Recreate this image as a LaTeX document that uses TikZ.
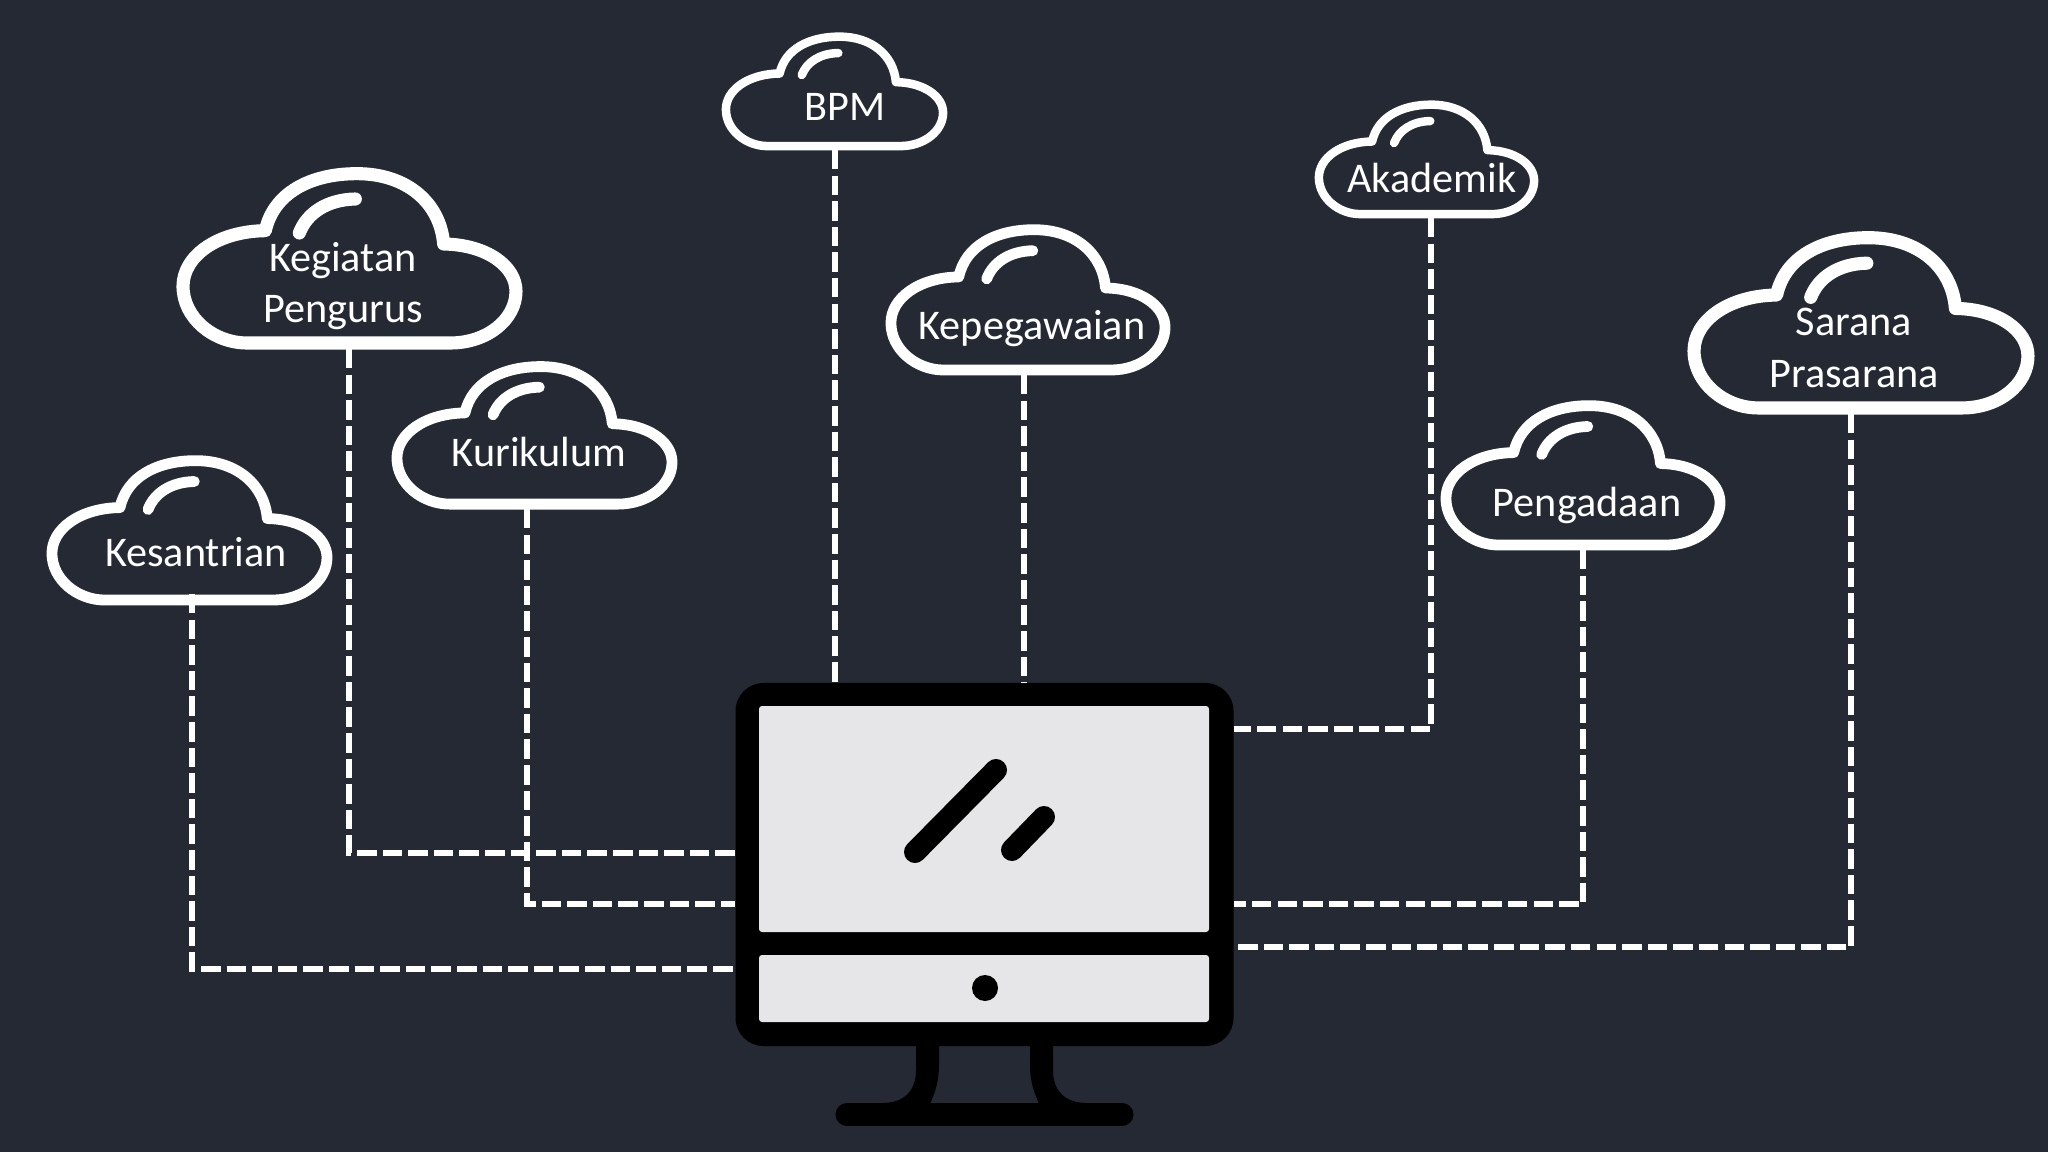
\documentclass[tikz,border=0pt]{standalone}
\usepackage{fontspec}
\setmainfont{Carlito}
\definecolor{bgc}{HTML}{242933}
\definecolor{scr}{HTML}{E6E6E8}
\newcommand{\cloudline}[4]{%
  \begin{scope}[shift={(#1,#2)},x={#3/1035*0.5bp},y={-#4/543*0.5bp},shift={(-80,-55)},
      draw=white,line width={#3*0.019bp},line cap=round,line join=round]
    \draw (290,580) -- (900,580)
      .. controls (1010,580) and (1097,510) .. (1097,425)
      .. controls (1097,350) and (1010,285) .. (880,283)
      .. controls (870,160) and (770,72) .. (620,72)
      .. controls (480,72) and (370,130) .. (345,243)
      .. controls (200,245) and (98,320) .. (98,410)
      .. controls (98,505) and (190,580) .. (290,580) -- cycle;
    \draw (447,250) .. controls (470,190) and (530,150) .. (615,148);
  \end{scope}}
\tikzset{
  label text/.style={text=white,align=center,inner sep=0pt,font=\fontsize{21.2}{25.7}\selectfont},
  link/.style={draw=white,line width=3.25bp,dash pattern=on 9.75bp off 3.05bp},
  monbody/.style={fill=black,draw=none,rounded corners=14bp,minimum width=249bp,minimum height=181.5bp,inner sep=0pt},
  panel/.style={fill=scr,draw=none,rounded corners=1.5bp},
  mark stroke/.style={draw=black,line width=11bp,line cap=round},
}
\begin{document}
\begin{tikzpicture}[x=0.5bp,y=-0.5bp]
\useasboundingbox (0,0) rectangle (2048,1152);
\fill[bgc] (-10,-10) rectangle (2058,1162);
% clouds
\cloudline{177}{168}{345}{181}
\cloudline{722}{33}{225}{117}
\cloudline{1315}{101}{223}{117}
\cloudline{886}{225}{284}{150}
\cloudline{1688}{232}{346}{182}
\cloudline{1441}{401}{284}{149}
\cloudline{392}{362}{285}{147}
\cloudline{47}{456}{285}{149}
% labels
\node[label text] (keg) at (343,286) {Kegiatan\\Pengurus};
\node[label text] (bpm) at (845,107) {BPM};
\node[label text] (aka) at (1432,178) {Akademik};
\node[label text] (kep) at (1032,329) {Kepegawaian};
\node[label text] (sar) at (1854,348) {Sarana\\Prasarana};
\node[label text] (pen) at (1587,505) {Pengadaan};
\node[label text] (kur) at (539,452) {Kurikulum};
\node[label text] (kes) at (196,552) {Kesantrian};
% cloud feet
\coordinate (kegB) at (349,349);
\coordinate (bpmB) at (835,150);
\coordinate (akaB) at (1431,218);
\coordinate (kepB) at (1024,375);
\coordinate (sarB) at (1851,414);
\coordinate (penB) at (1583,550);
\coordinate (kurB) at (527,509);
\coordinate (kesB) at (192,594);
% monitor
\node[monbody] (mon) at (984.5,864.5) {};
\fill[black] (916,1040) -- (916,1070) .. controls (916,1090) and (905,1103) .. (882,1103) -- (927,1110) .. controls (936,1092) and (939,1080) .. (939,1065) -- (939,1040) -- cycle;
\fill[black] (1053,1040) -- (1053,1070) .. controls (1053,1090) and (1064,1103) .. (1087,1103) -- (1042,1110) .. controls (1033,1092) and (1030,1080) .. (1030,1065) -- (1030,1040) -- cycle;
\draw[black,line width=11.5bp,line cap=round] (847,1114.5) -- (1122,1114.5);
\fill[panel] (759,706) rectangle (1209,932);
\fill[panel] (759,955) rectangle (1209,1022);
\draw[mark stroke] (915,852) -- (996,770);
\draw[mark stroke] (1012,850) -- (1044,817);
\fill[black] (985,988) circle (6.5bp);
% connectors
\draw[link] (kegB) |- (mon.west |- 0,853);
\draw[link] (kurB) |- (mon.west |- 0,904);
\draw[link] (kesB) |- (mon.west |- 0,969);
\draw[link] (bpmB) -- (mon.north -| bpmB);
\draw[link] (kepB) -- (mon.north -| kepB);
\draw[link] (akaB) |- (mon.east |- 0,729);
\draw[link] (penB) |- (mon.east |- 0,904);
\draw[link] (sarB) |- (mon.east |- 0,947);
\end{tikzpicture}
\end{document}
